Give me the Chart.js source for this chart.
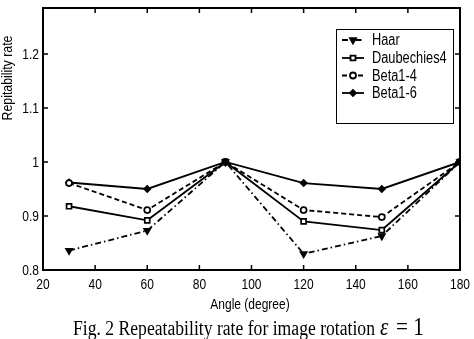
<!DOCTYPE html>
<html><head><meta charset="utf-8">
<script src="https://cdn.jsdelivr.net/npm/chart.js@4/dist/chart.umd.min.js"></script>
<style>html,body{margin:0;padding:0;background:#fff;}#wrap{width:474px;height:339px;position:relative;}</style>
</head><body><div id="wrap"><canvas id="c" width="474" height="339"></canvas></div>
<script>
const angles = [30, 60, 90, 120, 150, 180];
const haar = [0.836, 0.873, 1.0, 0.830, 0.863, 1.0];
const daubechies4 = [0.918, 0.892, 1.0, 0.890, 0.874, 1.0];
const beta14 = [0.961, 0.911, 1.0, 0.911, 0.898, 1.0];
const beta16 = [0.962, 0.950, 1.0, 0.961, 0.950, 1.0];
const seriesNames = ['Haar', 'Daubechies4', 'Beta1-4', 'Beta1-6'];
const xTicks = [20, 40, 60, 80, 100, 120, 140, 160, 180];
const yTicks = [0.8, 0.9, 1.0, 1.1, 1.2];
const xTitle = 'Angle (degree)';
const yTitle = 'Repitability rate';
const captionText = 'Fig. 2 Repeatability rate for image rotation';

const SANS = '"Liberation Sans", Arial, sans-serif';
const SERIF = '"Liberation Serif", "Times New Roman", serif';
const SX = 0.8; // horizontal squeeze of the reference picture

function pts(arr){ return angles.map((a,i)=>({x:a, y:arr[i]})); }

const styles = [
  {dash:[6,3,1.5,3], point:'triangle', rot:180, fill:'#000', r:3.5},
  {dash:[], point:'rect', rot:0, fill:'#fff', r:3.5},
  {dash:[5,3], point:'circle', rot:0, fill:'#fff', r:3},
  {dash:[], point:'rectRot', rot:0, fill:'#000', r:3},
];
const allData = [haar, daubechies4, beta14, beta16];

const datasets = allData.map((d,i)=>({
  label: seriesNames[i],
  data: pts(d),
  showLine: true,
  borderColor: '#000',
  borderWidth: 1.8,
  borderDash: styles[i].dash,
  pointStyle: styles[i].point,
  pointRotation: styles[i].rot,
  pointRadius: styles[i].r,
  pointBorderWidth: 1.7,
  pointBorderColor: '#000',
  pointBackgroundColor: styles[i].fill,
  tension: 0,
}));

function txt(ctx, s, x, y, font, align, sx){
  ctx.save();
  ctx.font = font;
  ctx.translate(x, y);
  ctx.scale(sx, 1);
  ctx.textAlign = align;
  ctx.fillText(s, 0, 0);
  ctx.restore();
}

const decor = {
  id: 'decor',
  afterDraw(chart){
    const ctx = chart.ctx;
    const a = chart.chartArea;
    const xs = chart.scales.x, ys = chart.scales.y;
    ctx.save();
    // frame
    ctx.strokeStyle = '#000';
    ctx.lineWidth = 2;
    ctx.setLineDash([]);
    ctx.strokeRect(a.left, a.top, a.right - a.left, a.bottom - a.top);
    // inside ticks
    ctx.lineWidth = 1.5;
    ctx.beginPath();
    xs.ticks.forEach(t=>{
      const px = xs.getPixelForValue(t.value);
      ctx.moveTo(px, a.bottom); ctx.lineTo(px, a.bottom - 5);
      ctx.moveTo(px, a.top); ctx.lineTo(px, a.top + 5);
    });
    ys.ticks.forEach(t=>{
      const py = ys.getPixelForValue(t.value);
      ctx.moveTo(a.left, py); ctx.lineTo(a.left + 5, py);
      ctx.moveTo(a.right, py); ctx.lineTo(a.right - 5, py);
    });
    ctx.stroke();

    // tick labels
    ctx.fillStyle = '#000';
    ctx.textBaseline = 'middle';
    const tf = '15px ' + SANS;
    xs.ticks.forEach(t=>{
      txt(ctx, String(t.value), xs.getPixelForValue(t.value), 285, tf, 'center', SX);
    });
    ys.ticks.forEach(t=>{
      txt(ctx, String(Math.round(t.value*10)/10), a.left - 4, ys.getPixelForValue(t.value) + 1, tf, 'right', SX);
    });

    // legend
    const L = {x:336, y:29, w:117, h:94};
    ctx.fillStyle = '#fff';
    ctx.fillRect(L.x, L.y, L.w, L.h);
    ctx.strokeStyle = '#000';
    ctx.lineWidth = 1;
    ctx.strokeRect(L.x + 0.5, L.y + 0.5, L.w, L.h);
    const rows = [40, 58, 75.5, 93];
    chart.data.datasets.forEach((ds, i)=>{
      const y = rows[i];
      ctx.strokeStyle = '#000';
      ctx.lineWidth = 1.8;
      ctx.setLineDash(ds.borderDash);
      ctx.beginPath(); ctx.moveTo(342, y); ctx.lineTo(364, y); ctx.stroke();
      ctx.setLineDash([]);
      ctx.fillStyle = ds.pointBackgroundColor;
      Chart.helpers.drawPoint(ctx, {pointStyle: ds.pointStyle, rotation: ds.pointRotation, radius: ds.pointRadius, borderWidth: 1.7}, 353, y);
      ctx.fillStyle = '#000';
      txt(ctx, ds.label, 372, y + 1, '16px ' + SANS, 'left', SX);
    });

    // axis titles
    ctx.fillStyle = '#000';
    txt(ctx, xTitle, 250, 305, '15px ' + SANS, 'center', SX);
    ctx.save();
    ctx.translate(8, 78);
    ctx.rotate(-Math.PI/2);
    ctx.font = '15px ' + SANS;
    ctx.textAlign = 'center';
    ctx.scale(0.82, 1);
    ctx.fillText(yTitle, 0, 0);
    ctx.restore();

    // caption
    ctx.textBaseline = 'alphabetic';
    ctx.font = '20px ' + SERIF;
    const w1 = ctx.measureText(captionText).width;
    txt(ctx, captionText, 73, 335, '20px ' + SERIF, 'left', (375 - 73) / w1);
    txt(ctx, '\u03b5', 380, 335, 'italic 25px ' + SERIF, 'left', 0.85);
    txt(ctx, '= 1', 396, 335, '25px ' + SERIF, 'left', 0.85);
    ctx.restore();
  }
};

new Chart(document.getElementById('c'), {
  type: 'scatter',
  data: { datasets },
  options: {
    responsive: false,
    animation: false,
    devicePixelRatio: 1,
    layout: { padding: { left: 0, top: 8, right: 14, bottom: 0 } },
    plugins: { legend: { display: false }, tooltip: { enabled: false } },
    scales: {
      x: {
        type: 'linear', min: 20, max: 180,
        afterFit(s){ s.height = 69; },
        afterBuildTicks(s){ s.ticks = xTicks.map(v=>({value:v})); },
        grid: { display: false, drawTicks: false },
        border: { display: false },
        ticks: { display: false }
      },
      y: {
        type: 'linear', min: 0.8, max: 1.285,
        afterFit(s){ s.width = 43; },
        afterBuildTicks(s){ s.ticks = yTicks.map(v=>({value:v})); },
        grid: { display: false, drawTicks: false },
        border: { display: false },
        ticks: { display: false }
      }
    }
  },
  plugins: [decor]
});
</script>
</body></html>
